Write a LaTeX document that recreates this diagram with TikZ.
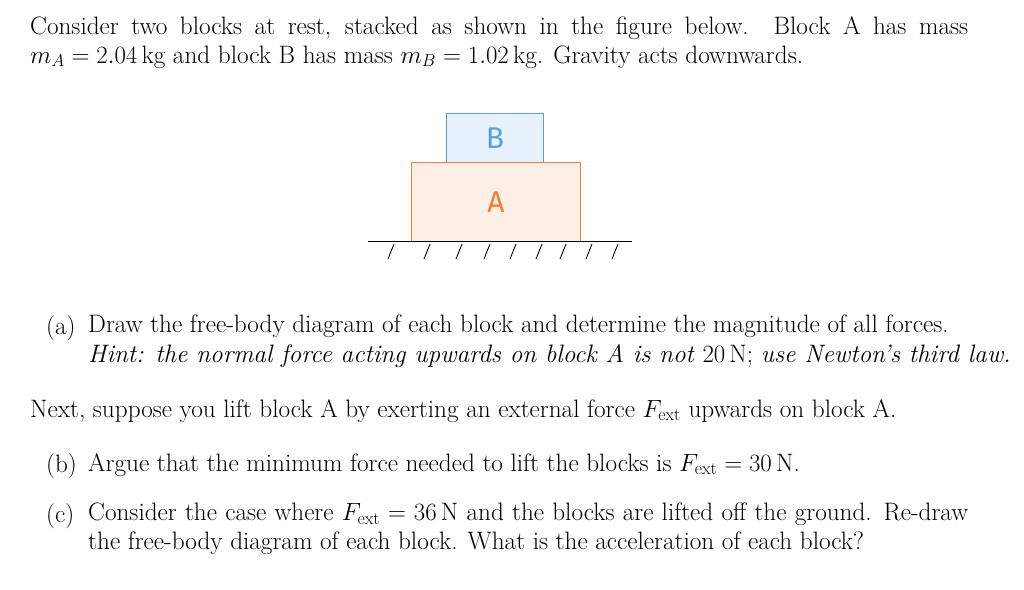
\documentclass[tikz,border=0pt]{standalone}
\usepackage{fontspec}
\newfontfamily\hand{Fira Sans}
\begin{document}
\begin{tikzpicture}[x=1pt,y=-1pt,
  txt/.style={anchor=north west,inner sep=0pt,font=\fontsize{25.2}{29}\selectfont,align=justify},
  lbl/.style={anchor=north west,inner sep=0pt,font=\fontsize{25.2}{29}\selectfont}]
\useasboundingbox (0,0) rectangle (1024,589);
\definecolor{bst}{RGB}{90,160,225}\definecolor{bfl}{RGB}{232,242,252}
\definecolor{ast}{RGB}{238,128,55}\definecolor{afl}{RGB}{253,239,229}
\node[txt,text width=938pt] (p1) at (30,16) {Consider two blocks at rest, stacked as shown in the figure below. Block A has mass\linebreak $m_A = 2.04\,\mathrm{kg}$ and block B has mass $m_B = 1.02\,\mathrm{kg}$. Gravity acts downwards.};
\node[draw=bst,fill=bfl,line width=1pt,minimum width=97pt,minimum height=49pt,anchor=north west,inner sep=0pt,font=\hand\fontsize{30}{30}\selectfont,text=bst] (B) at (446,113) {B};
\node[draw=ast,fill=afl,line width=1pt,minimum width=169pt,minimum height=79pt,anchor=north west,inner sep=0pt,font=\hand\fontsize{30}{30}\selectfont,text=ast] (A) at (411,162) {A};
\draw[line width=1pt] (368,241) -- (632,241);
\foreach \x in {388,424,456,484,510,536,560,586,612} \draw[line width=0.9pt] (\x+6,244) -- (\x,259);
\node[lbl] (la) at (46,315) {(a)};
\node[txt,text width=880pt] (ta) at (88,315) {Draw the free-body diagram of each block and determine the magnitude of all forces.};
\node[lbl] (th) at (88,344) {\emph{Hint: the normal force acting upwards on block A is not} $20\,\mathrm{N}$; \emph{use Newton's third law.}};
\node[lbl] (nx) at (30,399) {Next, suppose you lift block A by exerting an external force $F_{\mathrm{ext}}$ upwards on block A.};
\node[lbl] (lb) at (46,453) {(b)};
\node[lbl] (tb) at (88,453) {Argue that the minimum force needed to lift the blocks is $F_{\mathrm{ext}} = 30\,\mathrm{N}$.};
\node[lbl] (lc) at (46,503) {(c)};
\node[txt,text width=880pt] (tc) at (88,503) {Consider the case where $F_{\mathrm{ext}} = 36\,\mathrm{N}$ and the blocks are lifted off the ground. Re-draw\linebreak the free-body diagram of each block. What is the acceleration of each block?};
\end{tikzpicture}
\end{document}
